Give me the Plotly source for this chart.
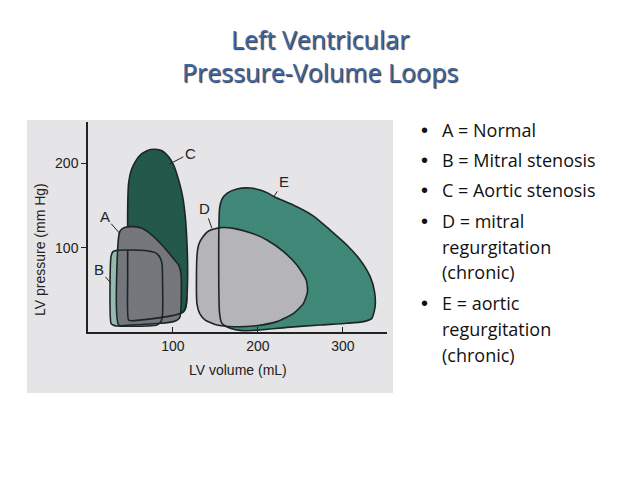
import plotly.graph_objects as go

# ---- data (LV volume mL, LV pressure mmHg) ----
A_vol = [36.1, 36.1, 38.0, 43.9, 53.7, 63.5, 75.3, 87.1, 98.8, 106.7, 109.4, 109.4, 107.5, 100.8, 85.1, 49.8]
A_prs = [8.3, 113.0, 120.2, 124.1, 124.9, 122.9, 115.0, 103.2, 89.3, 79.4, 69.6, 26.1, 16.2, 12.3, 10.3, 8.3]

B_vol = [27.1, 27.1, 29.4, 34.1, 49.8, 69.4, 79.2, 84.3, 87.1, 87.8, 87.8, 85.9, 81.2, 69.4, 34.1, 29.4]
B_prs = [10.3, 89.3, 95.3, 96.8, 97.2, 96.4, 94.1, 89.3, 81.4, 57.7, 22.1, 12.3, 8.3, 7.1, 7.1, 8.3]

C_vol = [46.7, 46.7, 47.8, 51.8, 59.6, 69.4, 79.2, 87.1, 94.9, 100.8, 106.7, 111.4, 114.5, 116.5, 117.3,
         116.5, 115.3, 112.5, 106.7, 92.9, 69.4, 51.8, 47.8, 46.7]
C_prs = [97.0, 144.7, 176.3, 194.1, 207.9, 215.0, 216.6, 215.0, 207.9, 198.0, 180.2, 160.5, 136.8, 105.1, 73.5,
         41.9, 30.0, 24.1, 21.3, 18.2, 15.0, 13.4, 14.2, 65.6]

D_vol = [128.2, 130.2, 134.1, 142.0, 155.7, 171.4, 191.0, 210.6, 230.2, 245.9, 256.9, 258.4, 253.7, 242.0,
         222.4, 194.9, 171.4, 151.8, 138.0, 131.4, 128.2]
D_prs = [89.3, 103.2, 111.1, 119.8, 123.7, 122.9, 117.8, 109.1, 95.3, 79.4, 61.7, 47.8, 34.0, 22.1,
         12.3, 7.1, 6.3, 8.3, 14.2, 22.1, 34.0]

E_vol = [154.9, 157.6, 163.5, 175.3, 191.0, 202.7, 212.5, 220.4, 230.2, 245.9, 265.5, 285.1, 304.7, 320.4,
         332.2, 337.3, 338.0, 334.1, 324.3, 304.7, 273.3, 234.1, 202.7, 181.2, 167.5, 157.6, 154.9]
E_prs = [146.6, 157.3, 164.4, 169.6, 170.8, 168.4, 164.4, 159.7, 155.7, 148.6, 137.5, 120.9, 103.2, 85.4,
         65.6, 47.8, 30.0, 16.2, 12.3, 10.3, 8.3, 5.5, 2.4, 1.6, 4.3, 10.3, 22.1]

loop_labels = ["A", "B", "C", "D", "E"]
label_target_vol = [37.3, 27.1, 95.7, 145.9, 218.4]
label_target_prs = [117.0, 57.7, 199.0, 122.9, 159.7]

x_ticks = [100, 200, 300]
y_ticks = [100, 200]

bullets = [
    "A = Normal",
    "B = Mitral stenosis",
    "C = Aortic stenosis",
    "D = mitral",
    "regurgitation",
    "(chronic)",
    "E = aortic",
    "regurgitation",
    "(chronic)",
]
bullet_has_dot = [True, True, True, True, False, False, True, False, False]

title_text = "Left Ventricular<br>Pressure-Volume Loops"

# ---- styling / geometry ----
W, H = 638, 478
OFF = 8                      # browser body margin
L, T = 80, 114
PW, PH = 299, 210
R, Bm = W - L - PW, H - T - PH
OUT = "#1c2626"
FONT_AX = "Liberation Sans, Arial"
FONT_SLIDE = "Open Sans, Lato"


def px_to_paper(px, py):
    """page pixel -> paper coordinates"""
    return (px - OFF - L) / PW, (T + PH - (py - OFF)) / PH


def closed(v, p):
    return list(v) + [v[0]], list(p) + [p[0]]


fig = go.Figure()


def fill_trace(v, p, color, fg):
    xv, yv = closed(v, p)
    fig.add_trace(go.Scatter(x=xv, y=yv, mode="lines", fill="toself", fillcolor=color,
                             fillpattern=dict(shape="/", size=3, solidity=0.25, fgcolor=fg, bgcolor=color),
                             line=dict(color="rgba(0,0,0,0)", width=0, shape="spline", smoothing=0.6),
                             hoverinfo="skip", showlegend=False))


def line_trace(v, p, close=True, width=1.6):
    xv, yv = closed(v, p) if close else (list(v), list(p))
    fig.add_trace(go.Scatter(x=xv, y=yv, mode="lines",
                             line=dict(color=OUT, width=width, shape="spline", smoothing=0.6),
                             hoverinfo="skip", showlegend=False))


# left group
fill_trace(C_vol, C_prs, "#245a4a", "#1a4538")
line_trace(C_vol, C_prs)
fill_trace(B_vol, B_prs, "#9bbcb2", "#6f958a")
fill_trace(A_vol, A_prs, "#77777e", "#66666c")
line_trace(A_vol, A_prs)
line_trace(B_vol, B_prs)
k = C_prs.index(41.9)
line_trace(C_vol[k:] + [C_vol[0]], C_prs[k:] + [C_prs[0]], close=False)

# right group
fill_trace(E_vol, E_prs, "#418a7a", "#2f7262")
fill_trace(D_vol, D_prs, "#b6b6bb", "#a2a2a8")
line_trace(E_vol, E_prs)
line_trace(D_vol, D_prs)

annotations = []
offsets = [(-15, -17), (-12, -14), (21, -11), (-7, -20), (10, -16)]
for lab, xv, yv, (dx, dy) in zip(loop_labels, label_target_vol, label_target_prs, offsets):
    annotations.append(dict(x=xv, y=yv, xref="x", yref="y", text=lab, showarrow=True,
                            arrowhead=0, arrowwidth=1, arrowcolor=OUT, ax=dx, ay=dy,
                            font=dict(family=FONT_AX, size=15, color="#222")))

# axis titles
xt, yt = px_to_paper(238, 370)
annotations.append(dict(x=xt, y=yt, xref="paper", yref="paper", text="LV volume (mL)", showarrow=False,
                        xanchor="center", yanchor="middle",
                        font=dict(family=FONT_AX, size=14, color="#222")))
xt, yt = px_to_paper(40, 250)
annotations.append(dict(x=xt, y=yt, xref="paper", yref="paper", text="LV pressure (mm Hg)", showarrow=False,
                        textangle=-90, xanchor="center", yanchor="middle",
                        font=dict(family=FONT_AX, size=14, color="#222")))

# title
xt, yt = px_to_paper(320, 55)
annotations.append(dict(x=xt, y=yt, xref="paper", yref="paper", text=title_text, showarrow=False,
                        xanchor="center", yanchor="middle", align="center",
                        font=dict(family=FONT_SLIDE, size=25, color="#3a68ad",
                                  shadow="1px 1px 1px #333")))

# bullet list
bullet_y = [130, 160, 190, 221, 247, 272, 303, 329, 355]
for txt, dot, py in zip(bullets, bullet_has_dot, bullet_y):
    xt, yt = px_to_paper(440, py)
    annotations.append(dict(x=xt, y=yt, xref="paper", yref="paper", text=txt, showarrow=False,
                            xanchor="left", yanchor="middle",
                            font=dict(family=FONT_SLIDE, size=18, color="#111")))
    if dot:
        xb, _ = px_to_paper(424, py)
        annotations.append(dict(x=xb, y=yt, xref="paper", yref="paper", text="•", showarrow=False,
                                xanchor="center", yanchor="middle",
                                font=dict(family="Liberation Sans, Arial", size=20, color="#111")))

# scanned page background
x0, y0 = px_to_paper(27, 393)
x1, y1 = px_to_paper(393, 120)
shapes = [dict(type="rect", xref="paper", yref="paper", x0=x0, y0=y0, x1=x1, y1=y1,
               fillcolor="#e5e4e6", line=dict(width=0), layer="below")]

fig.update_layout(
    width=W, height=H,
    margin=dict(l=L, r=R, t=T, b=Bm, pad=0),
    paper_bgcolor="white", plot_bgcolor="rgba(0,0,0,0)",
    showlegend=False,
    annotations=annotations, shapes=shapes,
    xaxis=dict(range=[0, 352], tickvals=x_ticks, ticks="inside", ticklen=5, tickwidth=1.2,
               tickcolor="#222", showline=True, linecolor="#222", linewidth=1.5,
               showgrid=False, zeroline=False, automargin=False,
               tickfont=dict(family=FONT_AX, size=14, color="#222")),
    yaxis=dict(range=[0, 249], tickvals=y_ticks, ticks="outside", ticklen=5, tickwidth=1.2,
               tickcolor="#222", showline=True, linecolor="#222", linewidth=1.5,
               showgrid=False, zeroline=False, automargin=False,
               tickfont=dict(family=FONT_AX, size=14, color="#222")),
)

fig.write_html("out.html")
